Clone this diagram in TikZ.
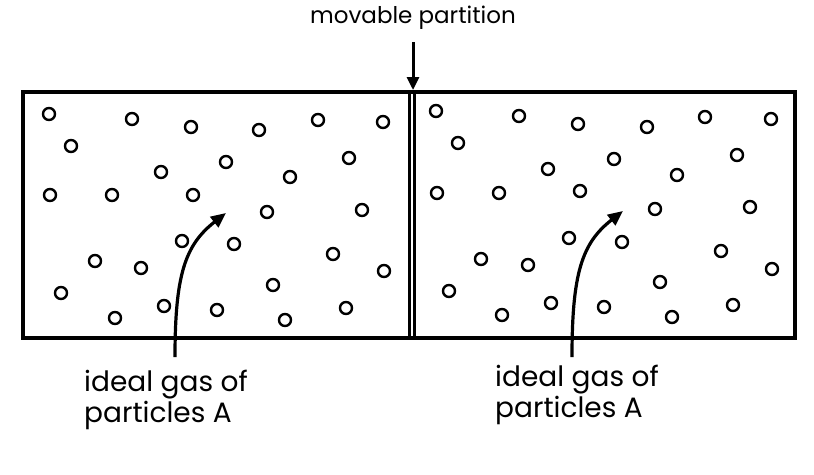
\documentclass[tikz,border=0pt]{standalone}
\usepackage{fontspec}
\setmainfont{Poppins}
\usetikzlibrary{arrows.meta}
\begin{document}
\begin{tikzpicture}[x=1pt,y=-1pt,
  part/.style={draw=black,line width=2.4pt,circle,inner sep=0pt,minimum size=12pt},
  lbl/.style={font=\fontsize{28}{31}\selectfont,align=left,anchor=north west,inner sep=0pt},
  flow/.style={line width=3.2pt,-{Triangle[length=15pt,width=13pt]}}]
\useasboundingbox (0,0) rectangle (814,474);
\draw[line width=3.2pt] (23,92) rectangle (795,338);
\draw[line width=2.8pt] (409.5,92) -- (409.5,338);
\draw[line width=2.8pt] (414.5,92) -- (414.5,338);
\node[font=\fontsize{23}{28}\selectfont,inner sep=0pt] (t) at (413,18) {movable partition};
\coordinate (pt) at (413,90);
\draw[line width=3pt,-{Triangle[length=13pt,width=12pt]}] (413,42) -- (pt);
\foreach \x/\y [count=\i] in {49/114,132/119,191/127,259/130,318/120,383/122,71/146,161/172,226/162,290/177,349/158,50/195,112/195,193/195,267/212,362/210,182/241,234/244,95/261,141/268,333/254,384/271,61/293,115/318,164/306,217/310,273/285,285/320,346/308}
  \node[part] (l\i) at (\x,\y) {};
\foreach \x/\y [count=\i] in {436/111,519/116,578/124,647/127,705/117,771/119,458/143,548/169,614/159,677/175,737/155,437/193,499/193,580/191,655/209,750/207,569/238,622/242,481/259,528/265,721/251,772/269,449/291,502/315,551/303,604/307,660/282,672/317,733/305}
  \node[part] (r\i) at (\x,\y) {};
\node[lbl] (la) at (84,370) {ideal gas of\\particles A};
\node[lbl] (ra) at (495,365) {ideal gas of\\particles A};
\coordinate (a1) at (175,357);
\coordinate (a2) at (226,213);
\coordinate (b1) at (572,357);
\coordinate (b2) at (623,211);
\draw[flow] (a1) .. controls (175,275) and (185,245) .. (a2);
\draw[flow] (b1) .. controls (572,273) and (582,243) .. (b2);
\end{tikzpicture}
\end{document}
